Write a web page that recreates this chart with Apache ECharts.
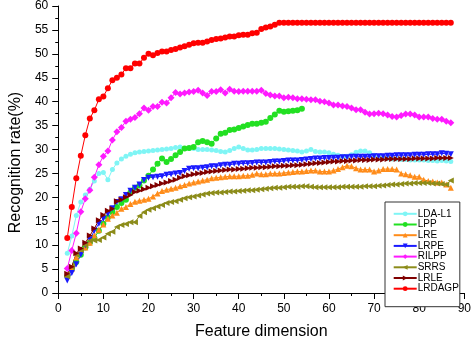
<!DOCTYPE html>
<html><head><meta charset="utf-8">
<script src="https://cdn.jsdelivr.net/npm/echarts@6/dist/echarts.min.js"></script>
<style>html,body{margin:0;padding:0;background:#fff}#c{width:474px;height:345px}</style>
</head><body><div id="c"></div>
<script>
const dims = [2,3,4,5,6,7,8,9,10,11,12,13,14,15,16,17,18,19,20,21,22,23,24,25,26,27,28,29,30,31,32,33,34,35,36,37,38,39,40,41,42,43,44,45,46,47,48,49,50,51,52,53,54,55,56,57,58,59,60,61,62,63,64,65,66,67,68,69,70,71,72,73,74,75,76,77,78,79,80,81,82,83,84,85,86,87];
const ldaL1 = [8.3,11.9,16.2,19,20.5,21.7,23.4,25,25.2,23.7,
25.8,27.2,28,28.6,29,29.3,29.5,29.6,29.7,29.8,
29.9,30,30.1,30.2,30.4,30.5,30.2,30.2,30.2,30,
30,30,29.9,29.8,29.6,29.5,29.8,30.2,30.5,30.2,
29.9,29.9,30,30.2,30.2,30.2,30.2,30.1,30,29.9,
29.8,29.7,29.5,29.7,30,29.6,29.5,29.5,29.3,29,
28.8,28.6,28.6,28.9,29.4,29.7,29.7,29.3,28.8,28.5,
28.3,28.1,28,28,27.9,27.9,27.8,27.8,27.8,27.8,
27.7,27.7,27.6,27.7,27.6,27.5];
const lpp = [3.5,5,6.5,8,9.5,10.5,11.5,13,14.5,15.8,
17,18,18.8,19.5,21,22,22.5,23.5,24.5,25.8,
27,28.1,27.4,28,28.8,29.5,30.2,30.3,30.5,31.5,
31.8,31.5,31.2,32.3,33.3,33.5,34.1,34.2,34.5,34.8,
35.1,35.4,35.4,35.6,35.8,36.6,37.3,38.1,37.9,38,
38.1,38.2,38.5];
const lre = [3.8,5,7.5,9,9.5,10.5,12,13.2,14.3,15.5,
16.2,16.8,17.6,18,18.6,19.1,19.3,19.5,19.7,20.2,
20.8,21.3,21.6,21.8,22,22.3,22.6,22.9,23.1,23.3,
23.5,23.7,24,24.1,24.2,24.3,24.4,24.4,24.4,24.5,
24.5,24.7,25,24.8,24.8,25,25,25,25.1,25.2,
25.3,25.4,25.4,25.5,25.6,25.6,25.4,25.4,25.4,25.6,
25.9,26.3,26.6,26.5,26.1,25.8,25.8,25.8,25.4,25.6,
25.9,25.9,25.9,25.8,25,24.8,24.6,24.3,24.3,23.7,
23.4,23.3,23.1,23.1,22.7,22];
const lrpe = [2.6,4.2,6,8,10,11.2,13,14.5,15.5,16.5,
17.7,19,19.6,20.5,21.4,22,22.7,23.6,24.1,24.2,
24.3,24.4,24.7,24.8,25,25.1,25.5,26,26.1,26.1,
26.2,26.3,26.5,26.5,26.7,26.8,26.8,27,27,27.1,
27.1,27.2,27.3,27.3,27.3,27.4,27.5,27.5,27.6,27.7,
27.7,27.7,27.8,27.9,28,28.1,28.1,28.2,28.2,28.3,
28.3,28.4,28.4,28.5,28.5,28.5,28.5,28.5,28.6,28.6,
28.6,28.7,28.7,28.8,28.8,28.8,28.8,28.9,28.9,28.9,
29,29,29,29.2,29.1,29];
const rilpp = [5.1,8.9,12.5,17,19.7,21.5,24.2,26.8,28.6,29.7,
32,33.7,34.6,35.9,36.3,36.7,37.5,38.7,38.2,39,
39,39.9,39.7,40.8,41.9,41.6,41.8,42,42.1,42.4,
41.8,41.3,42.1,42.1,42.5,41.8,42.6,42.2,42.1,42.2,
42.2,42.2,42.2,42.4,41.7,41.4,41.2,41.2,40.8,40.9,
40.8,40.6,40.6,40.5,40.4,40.4,40.1,40,39.7,39.3,
39.3,39.1,39,38.7,38.3,38.3,37.8,37.4,37.5,37.6,
37.5,37.2,36.9,36.8,37.1,37.4,37.4,37.2,36.8,36.8,
36.8,36.5,36.3,36.3,35.9,35.6];
const srrs = [3.5,5.5,8,9,10,10.9,11,11.1,11.6,12.4,
12.8,13.8,14.2,14.4,14.8,14.8,16.1,16.9,17.4,17.7,
18.1,18.4,18.8,19,19.2,19.5,19.8,20,20.2,20.4,
20.6,20.8,20.9,21,21,21.1,21.2,21.2,21.3,21.4,
21.5,21.5,21.6,21.7,21.8,21.9,22,22,22.1,22.2,
22.2,22.2,22.3,22.3,22.2,22.1,22.1,22.1,22.1,22.1,
22.1,22.2,22.2,22.2,22.2,22.2,22.3,22.3,22.3,22.4,
22.5,22.6,22.7,22.7,22.8,22.9,22.9,23,23,23,
23,22.9,22.9,22.8,22.7,23.5];
const lrle = [4,5.5,8.3,9.3,10.5,12,13.5,15.2,16.3,17.2,
17.6,19.2,19.5,20,20.5,21.1,21.4,21.7,22,22.3,
22.6,22.9,23.1,23.4,23.7,24.1,24.4,24.6,24.8,25,
25.1,25.3,25.4,25.5,25.6,25.7,25.8,25.8,25.9,26,
26.1,26.2,26.2,26.3,26.3,26.4,26.5,26.5,26.6,26.6,
26.7,26.7,26.8,26.9,27,27.1,27.2,27.3,27.4,27.5,
27.5,27.6,27.6,27.7,27.7,27.8,27.8,27.8,27.9,27.9,
27.9,28,28,28,28,28,28,28.1,28.1,28.1,
28.1,28.1,28.2,28.2,28.2,28.2];
const lrdagp = [11.5,18,24,28.7,33,36.5,38.2,40.5,41.1,42.8,
44.5,45,45.7,47,47,48,48,49.2,50,49.7,
50.2,50.5,50.5,50.8,51,51.3,51.6,51.9,52.2,52.3,
52.3,52.6,52.9,53.1,53.2,53.4,53.6,53.6,53.9,54,
54,54.3,54.4,55.2,55.5,55.7,56.1,56.5,56.5,56.5,
56.5,56.5,56.5,56.5,56.5,56.5,56.5,56.5,56.5,56.5,
56.5,56.5,56.5,56.5,56.5,56.5,56.5,56.5,56.5,56.5,
56.5,56.5,56.5,56.5,56.5,56.5,56.5,56.5,56.5,56.5,
56.5,56.5,56.5,56.5,56.5,56.5];
const xTicks = [0,10,20,30,40,50,60,70,80,90];
const yTicks = [0,5,10,15,20,25,30,35,40,45,50,55,60];

const font = 'Liberation Sans, Arial, sans-serif';
function pairs(vals){ return vals.map((v,i)=>[dims[i], v]); }
const defs = [
  {name:'LDA-L1', data:ldaL1, color:'#7ff5f5', symbol:'circle', size:5, rot:0},
  {name:'LPP', data:lpp, color:'#22e022', symbol:'circle', size:6, rot:0},
  {name:'LRE', data:lre, color:'#ff8c1a', symbol:'triangle', size:6, rot:0},
  {name:'LRPE', data:lrpe, color:'#1a1aff', symbol:'triangle', size:6, rot:180},
  {name:'RILPP', data:rilpp, color:'#ff1aff', symbol:'diamond', size:7, rot:0},
  {name:'SRRS', data:srrs, color:'#8c8c1a', symbol:'triangle', size:6, rot:90},
  {name:'LRLE', data:lrle, color:'#800000', symbol:'triangle', size:6, rot:-90},
  {name:'LRDAGP', data:lrdagp, color:'#ff0000', symbol:'circle', size:6, rot:0}
];
const chart = echarts.init(document.getElementById('c'), null, {renderer:'canvas'});
chart.setOption({
  animation:false,
  backgroundColor:'#fff',
  grid:{left:47, right:7, top:6, bottom:46, containLabel:false},
  legend:{
    orient:'vertical', left:385, top:202,
    padding:[6.8,1,13,7.7], itemWidth:23, itemHeight:6, itemGap:0.7,
    borderColor:'#333', borderWidth:1, backgroundColor:'#fff',
    textStyle:{fontFamily:font, fontSize:10, lineHeight:9, color:'#000', padding:[0,0,0,-4]},
    data:defs.map(d=>d.name)
  },
  xAxis:{
    type:'value', min:0, max:90, interval:10,
    name:'Feature dimension', nameLocation:'middle', nameGap:31,
    nameTextStyle:{fontFamily:font, fontSize:16, color:'#000'},
    axisLine:{lineStyle:{color:'#000', width:1}},
    axisTick:{show:true, inside:false, length:6, lineStyle:{color:'#000'}},
    minorTick:{show:true, splitNumber:2, length:3, lineStyle:{color:'#000'}},
    splitLine:{show:false},
    axisLabel:{fontFamily:font, fontSize:12, color:'#000', margin:10,
      formatter:v=>xTicks.includes(v)?String(v):''}
  },
  yAxis:{
    type:'value', min:0, max:60, interval:5,
    name:'Recognition rate(%)', nameLocation:'middle', nameGap:29,
    nameTextStyle:{fontFamily:font, fontSize:16, color:'#000', padding:[0,26,0,0]},
    axisLine:{show:true, lineStyle:{color:'#000', width:1}},
    axisTick:{show:true, inside:false, length:6, lineStyle:{color:'#000'}},
    minorTick:{show:true, splitNumber:2, length:3, lineStyle:{color:'#000'}},
    splitLine:{show:false},
    axisLabel:{fontFamily:font, fontSize:12, color:'#000', margin:10,
      formatter:v=>yTicks.includes(v)?String(v):''}
  },
  series:defs.map(d=>({
    name:d.name, type:'line', data:pairs(d.data),
    symbol:d.symbol, symbolSize:d.size, symbolRotate:d.rot,
    showSymbol:true,
    lineStyle:{color:d.color, width:1},
    itemStyle:{color:d.color, borderWidth:0},
    emphasis:{disabled:true}
  }))
});
</script></body></html>
